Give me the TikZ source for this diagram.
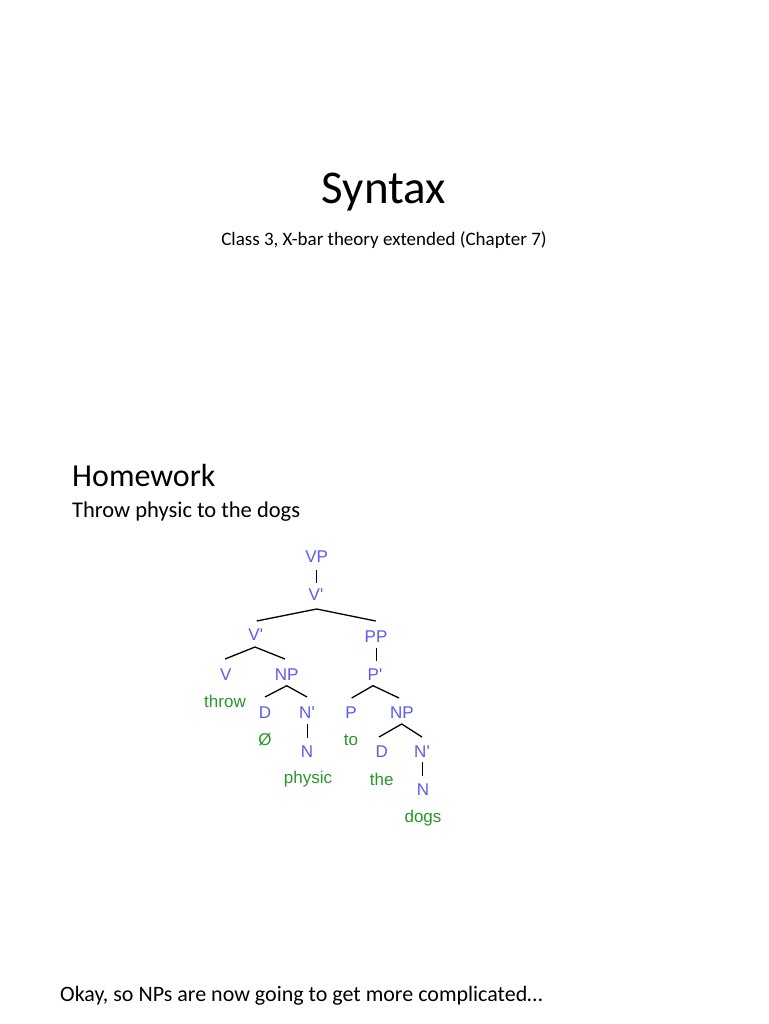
\documentclass[tikz,border=0pt]{standalone}
\usepackage{fontspec}
\setmainfont{Carlito}
\newfontfamily\arial{Liberation Sans}
\definecolor{cat}{RGB}{90,90,240}
\definecolor{wd}{RGB}{40,150,40}
\begin{document}
\begin{tikzpicture}[x=1pt,y=-1pt,
  c/.style={font=\arial\fontsize{17}{17}\selectfont,text=cat,inner sep=1pt},
  w/.style={font=\arial\fontsize{17}{17}\selectfont,text=wd,inner sep=1pt},
  br/.style={draw=black,line width=1.3pt},
  vl/.style={draw=black,line width=0.9pt}]
\useasboundingbox (0,0) rectangle (768,1024);
\node[font=\fontsize{47}{47}\selectfont] (title) at (384,192) {Syntax};
\node[font=\fontsize{19}{19}\selectfont] (sub) at (384,240) {Class 3, X-bar theory extended (Chapter 7)};
\node[anchor=west,font=\fontsize{32}{32}\selectfont,inner sep=0] (hw) at (72,475) {Homework};
\node[anchor=west,font=\fontsize{22.5}{22.5}\selectfont,inner sep=0] (ex) at (72,512) {Throw physic to the dogs};
\node[anchor=west,font=\fontsize{22}{22}\selectfont,inner sep=0] (ok) at (60,996) {Okay, so NPs are now going to get more complicated…};
\node[c] (vp) at (316.7,556.7) {VP};
\node[c] (vb) at (316,595) {V'};
\node[c] (vb2) at (255.7,635) {V'};
\node[c] (pp) at (376,636.7) {PP};
\node[c] (v) at (225.7,675) {V};
\node[c] (np) at (286.7,675) {NP};
\node[c] (pb) at (375,675) {P'};
\node[w] (throw) at (225,701.7) {throw};
\node[c] (d) at (265,713) {D};
\node[c] (nb) at (307,713) {N'};
\node[c] (p) at (351,713) {P};
\node[c] (np2) at (402,713) {NP};
\node[w] (o) at (265,740) {Ø};
\node[c] (n) at (307,751.7) {N};
\node[w] (to) at (351,740) {to};
\node[c] (d2) at (381.7,751.7) {D};
\node[c] (nb2) at (422,751.7) {N'};
\node[w] (physic) at (308,779) {physic};
\node[w] (the) at (381.7,779) {the};
\node[c] (n2) at (423,790) {N};
\node[w] (dogs) at (423,818) {dogs};
% apexes and branch ends
\coordinate (a1) at (316.7,609); \coordinate (l1) at (256.7,621); \coordinate (r1) at (375.7,621);
\coordinate (a2) at (255,647); \coordinate (l2) at (225,659); \coordinate (r2) at (285,659);
\coordinate (a3) at (286.7,685.7); \coordinate (l3) at (265,697); \coordinate (r3) at (307,697);
\coordinate (a4) at (373,685.7); \coordinate (l4) at (351.7,698); \coordinate (r4) at (399,698);
\coordinate (a5) at (401.7,724); \coordinate (l5) at (379,737); \coordinate (r5) at (422,737);
\draw[br] (l1) -- (a1) -- (r1);
\draw[br] (l2) -- (a2) -- (r2);
\draw[br] (l3) -- (a3) -- (r3);
\draw[br] (l4) -- (a4) -- (r4);
\draw[br] (l5) -- (a5) -- (r5);
\draw[vl] (316.7,570) -- (316.7,583);
\draw[vl] (376,648) -- (376,661);
\draw[vl] (307,724) -- (307,738);
\draw[vl] (422,762) -- (422,776);
\end{tikzpicture}
\end{document}
